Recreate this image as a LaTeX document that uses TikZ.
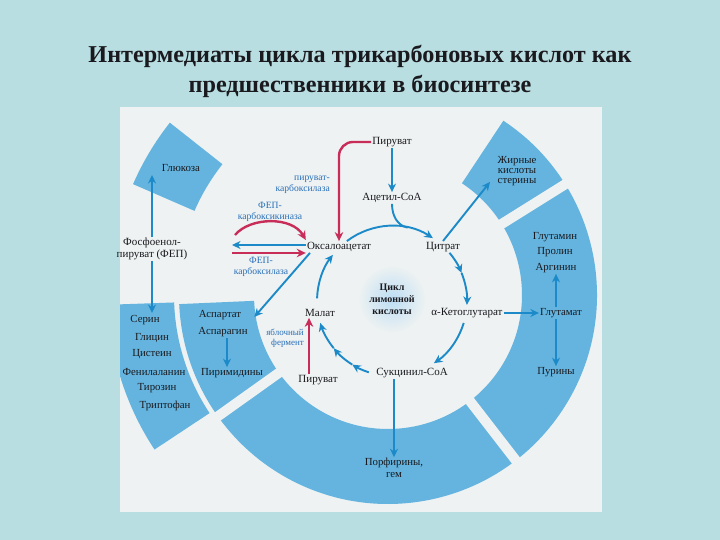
\documentclass[tikz,border=0pt]{standalone}
\usepackage{fontspec}
\setmainfont{Liberation Serif}
\usetikzlibrary{arrows.meta,calc}
\definecolor{bgcyan}{RGB}{185,222,226}
\definecolor{panel}{RGB}{238,242,242}
\definecolor{segblue}{RGB}{100,180,223}
\definecolor{arrblue}{RGB}{28,138,200}
\definecolor{arrred}{RGB}{200,45,90}
\definecolor{enz}{RGB}{40,110,185}
\definecolor{ink}{RGB}{25,25,30}
\definecolor{glow}{RGB}{188,221,244}
\begin{document}
\begin{tikzpicture}[x=1pt,y=1pt,
  lbl/.style={font=\fontsize{11}{12}\selectfont, text=ink, inner sep=1pt, align=center},
  seglbl/.style={font=\fontsize{10.8}{11.5}\selectfont, text=ink, inner sep=1pt, align=center},
  enzlbl/.style={font=\fontsize{9.6}{10.5}\selectfont, text=enz, align=center, inner sep=0pt},
  barrow/.style={draw=arrblue, line width=1.9pt, -{Stealth[length=8.5pt,width=8pt]}},
  bline/.style={draw=arrblue, line width=1.9pt},
  rarrow/.style={draw=arrred, line width=2.4pt, -{Stealth[length=9pt,width=8.5pt]}},
  gapline/.style={draw=panel, line width=10pt},
]
\useasboundingbox (0,0) rectangle (720,540);
\fill[bgcyan] (0,0) rectangle (720,540);
\fill[panel] (120,28) rectangle (602,433);

% title
\node[font=\fontsize{24.2}{30}\selectfont\bfseries, text=ink, align=center] (title) at (360,469)
  {Интермедиаты цикла трикарбоновых кислот как\\предшественники в биосинтезе};

% big ring
\coordinate (C) at (388,245);
\fill[segblue] ($(C)+(56.5:209)$) arc[start angle=56.5, end angle=-177.5, radius=209]
  -- ($(C)+(-177.5:134)$) arc[start angle=-177.5, end angle=56.5, radius=134] -- cycle;
\draw[gapline] ($(C)+(32:126)$) -- ($(C)+(32:216)$);
\draw[gapline] ($(C)+(-52.3:126)$) -- ($(C)+(-52.3:216)$);
\draw[gapline] ($(C)+(215.5:126)$) -- ($(C)+(215.5:216)$);
% outer pieces
\fill[segblue] ($(C)+(141.7:211)$) arc[start angle=141.7, end angle=156.5, radius=211]
  -- ($(C)+(156.5:278)$) arc[start angle=156.5, end angle=141.7, radius=278] -- cycle;
\begin{scope}
  \clip (120,28) rectangle (602,433);
  \fill[segblue] ($(C)+(182:214)$) arc[start angle=182, end angle=213.5, radius=214]
    -- ($(C)+(213.5:280)$) arc[start angle=213.5, end angle=182, radius=280] -- cycle;
\end{scope}

% glow behind cycle label
\shade[shading=radial, inner color=glow, outer color=panel] (392,241) circle (34);

% cycle nodes
\node[lbl] (pyr1) at (392,398) {Пируват};
\node[lbl] (acet) at (392,342) {Ацетил-CoA};
\node[lbl] (oxa) at (339,293) {Оксалоацетат};
\node[lbl] (cit) at (443,293) {Цитрат};
\node[lbl] (akg) at (467,227) {α-Кетоглутарат};
\node[lbl] (succ) at (412,167) {Сукцинил-CoA};
\node[lbl] (mal) at (320,227) {Малат};
\node[lbl] (pyr2) at (318,160) {Пируват};
\node[lbl] (pep) at (152,291) {Фосфоенол-\\пируват (ФЕП)};
\node[font=\fontsize{10}{12}\selectfont\bfseries, text=ink, align=center] (tca) at (392,241) {Цикл\\лимонной\\кислоты};

% segment labels
\node[seglbl] (glc) at (181,372) {Глюкоза};
\node[seglbl] (ser) at (145,220) {Серин};
\node[seglbl] (gly) at (152,202) {Глицин};
\node[seglbl] (cys) at (152,186) {Цистеин};
\node[seglbl] (phe) at (154,168) {Фенилаланин};
\node[seglbl] (tyr) at (157,152) {Тирозин};
\node[seglbl] (trp) at (165,134) {Триптофан};
\node[seglbl] (asp) at (220,225) {Аспартат};
\node[seglbl] (asn) at (223,208) {Аспарагин};
\node[seglbl] (pyrim) at (232,167) {Пиримидины};
\node[seglbl, font=\fontsize{10.8}{9.8}\selectfont] (fa) at (517,369) {Жирные\\кислоты\\стерины};
\node[seglbl] (gln) at (555,303) {Глутамин};
\node[seglbl] (pro) at (555,288) {Пролин};
\node[seglbl] (arg) at (556,272) {Аргинин};
\node[seglbl] (glu) at (561,227) {Глутамат};
\node[seglbl] (pur) at (556,168) {Пурины};
\node[seglbl] (porph) at (394,72) {Порфирины,\\гем};

% enzyme labels
\node[enzlbl, align=right, anchor=east] (pc) at (330,355) {пируват-\\карбоксилаза};
\node[enzlbl] (pepck) at (270,328) {ФЕП-\\карбоксикиназа};
\node[enzlbl] (pepc) at (261,273) {ФЕП-\\карбоксилаза};
\node[enzlbl, align=right, anchor=east, font=\fontsize{9}{10}\selectfont] (me) at (304,202) {яблочный\\фермент};

% cycle arcs
\coordinate (O) at (392,239);
\coordinate (oxaR) at ($(O)+(127:75)$);
\coordinate (join) at ($(O)+(78:75)$);
\coordinate (citS) at ($(O)+(40:75)$);
\coordinate (midR) at ($(O)+(22:75)$);
\coordinate (akgS) at ($(O)+(-17:75)$);
\coordinate (sucS) at ($(O)+(-108:75)$);
\coordinate (midB1) at ($(O)+(-122:75)$);
\coordinate (midB2) at ($(O)+(-141:75)$);
\coordinate (malS) at ($(O)+(178:75)$);
\draw[barrow] (oxaR) arc[start angle=127, end angle=57, radius=75];
\draw[bline] (acet.south) .. controls +(0,-12) and +(-10,2) .. (join);
\draw[barrow] (citS) arc[start angle=40, end angle=22, radius=75];
\draw[barrow] (midR) arc[start angle=22, end angle=-3, radius=75];
\draw[barrow] (akgS) arc[start angle=-17, end angle=-56, radius=75];
\draw[barrow] (sucS) arc[start angle=-108, end angle=-122, radius=75];
\draw[barrow] (midB1) arc[start angle=-122, end angle=-141, radius=75];
\draw[barrow] (midB2) arc[start angle=-141, end angle=-163, radius=75];
\draw[barrow] (malS) arc[start angle=178, end angle=142, radius=75];

% straight connectors
\draw[barrow] (pyr1) -- (acet);
\draw[rarrow, rounded corners=14pt] (pyr1.west) -| (oxa.north);
\coordinate (pepA) at (232,295);
\coordinate (pepB) at (232,287);
\coordinate (pepC) at (235,305);
\draw[barrow] ($(oxa.west)+(0,2)$) -- (pepA);
\draw[rarrow] (pepB) -- ($(oxa.west)+(0,-6)$);
\draw[rarrow] (pepC) .. controls (250,323) and (292,324) .. ($(oxa.west)+(0,7)$);
\draw[barrow] ($(oxa.south)+(-29,0)$) -- ($(asp.east)+(12,-2)$);
\coordinate (faIn) at (490,358);
\draw[barrow] (cit.north) -- (faIn);
\draw[barrow] (akg.east) -- (akg.east -| glu.west);
\draw[barrow] (glu.north -| arg) -- (arg.south);
\draw[barrow] (glu.south -| pur) -- (pur.north);
\draw[barrow] (succ.south -| porph) -- (porph.north);
\draw[rarrow] (pyr2.north -| 309,0) -- (mal.south -| 309,0);
\draw[barrow] (asn.south -| 227,0) -- (pyrim.north -| 227,0);
\coordinate (glcIn) at (152,365);
\coordinate (serIn) at (152,227);
\draw[barrow] (pep.north -| glcIn) -- (glcIn);
\draw[barrow] (pep.south -| serIn) -- (serIn);
\end{tikzpicture}
\end{document}
